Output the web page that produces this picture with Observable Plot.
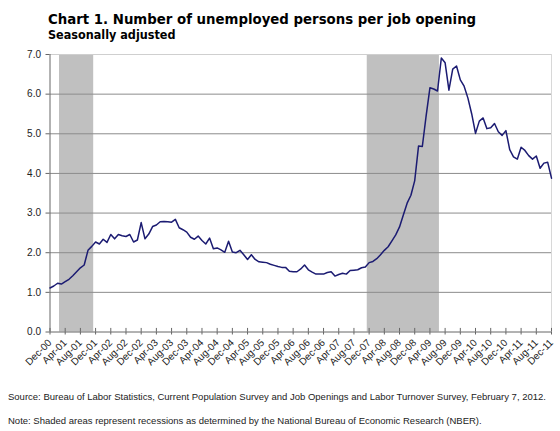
<!DOCTYPE html>
<html><head><meta charset="utf-8">
<script src="https://cdn.jsdelivr.net/npm/d3@7"></script>
<script src="https://cdn.jsdelivr.net/npm/@observablehq/plot@0.6"></script>
<style>
body{margin:0;background:#fff;}
#wrap{position:relative;width:560px;height:431px;overflow:hidden;background:#fff;}
.t{position:absolute;left:48px;font-family:"DejaVu Sans Condensed","DejaVu Sans",sans-serif;font-weight:bold;color:#000;white-space:nowrap;line-height:1;z-index:2;}
#title{top:11.5px;font-size:14.8px;}
#subtitle{top:28.5px;font-size:12.5px;}
#chart{position:absolute;left:0;top:40px;z-index:1;}
.c{position:absolute;left:8px;font-family:"Liberation Sans",Arial,sans-serif;font-size:9.5px;color:#222;white-space:nowrap;line-height:1;}
#source{top:391.5px;}
#note{top:416px;}
</style></head><body>
<div id="wrap">
<div id="title" class="t">Chart 1. Number of unemployed persons per job opening</div>
<div id="subtitle" class="t">Seasonally adjusted</div>
<div id="chart"></div>
<div id="source" class="c">Source: Bureau of Labor Statistics, Current Population Survey and Job Openings and Labor Turnover Survey, February 7, 2012.</div>
<div id="note" class="c">Note: Shaded areas represent recessions as determined by the National Bureau of Economic Research (NBER).</div>
</div>
<script>
// Unemployed persons per job opening, monthly Dec-00 .. Dec-11
const ratio = [
 1.11,1.16,1.23,1.21,1.27,1.33,1.42,1.52,1.62,1.69,2.06,2.16,
 2.27,2.22,2.34,2.26,2.46,2.35,2.46,2.43,2.41,2.46,2.27,2.32,
 2.76,2.35,2.47,2.66,2.70,2.78,2.79,2.78,2.77,2.84,2.63,2.58,
 2.52,2.39,2.34,2.42,2.31,2.22,2.37,2.10,2.12,2.07,2.01,2.29,
 2.02,2.00,2.06,1.95,1.83,1.95,1.83,1.77,1.76,1.75,1.71,1.68,
 1.65,1.63,1.63,1.53,1.52,1.52,1.59,1.69,1.57,1.51,1.46,1.46,
 1.46,1.50,1.52,1.41,1.45,1.48,1.46,1.55,1.56,1.57,1.62,1.64,
 1.75,1.78,1.85,1.95,2.06,2.15,2.30,2.45,2.65,2.95,3.25,3.45,
 3.82,4.69,4.68,5.45,6.16,6.13,6.08,6.91,6.79,6.10,6.63,6.71,
 6.36,6.20,5.90,5.50,5.01,5.32,5.40,5.13,5.15,5.26,5.05,4.96,
 5.08,4.60,4.42,4.36,4.66,4.58,4.45,4.36,4.44,4.13,4.26,4.28,
 3.88
];
const tickLabels = ["Dec-00","Apr-01","Aug-01","Dec-01","Apr-02","Aug-02","Dec-02","Apr-03","Aug-03","Dec-03",
 "Apr-04","Aug-04","Dec-04","Apr-05","Aug-05","Dec-05","Apr-06","Aug-06","Dec-06","Apr-07","Aug-07","Dec-07",
 "Apr-08","Aug-08","Dec-08","Apr-09","Aug-09","Dec-09","Apr-10","Aug-10","Dec-10","Apr-11","Aug-11","Dec-11"];
const yTicks = [0,1,2,3,4,5,6,7];
const recessions = [{start:"Mar-01", end:"Nov-01"},{start:"Dec-07", end:"Jun-09"}];

const fmt = d3.timeFormat("%b-%y");
const months = d3.timeMonth.range(new Date(2000,11,1), new Date(2012,0,1)).map(fmt);
const data = ratio.map((v,i)=>({i, month: months[i], v}));
const idx = m => months.indexOf(m);
const rec = recessions.map(r=>({x1: idx(r.start)-0.5, x2: idx(r.end)+0.5}));
const tickIdx = tickLabels.map(idx);

const chart = Plot.plot({
  width:560, height:340,
  marginLeft:49.5, marginRight:9, marginTop:14, marginBottom:48.5,
  x:{type:"linear", domain:[0, months.length-1]},
  y:{domain:[0,7]},
  style:{fontFamily:"'Liberation Sans', Arial, sans-serif", fontSize:"10px", color:"#222", background:"transparent", overflow:"visible"},
  marks:[
    Plot.rect(rec, {x1:"x1", x2:"x2", y1:0, y2:7, fill:"#c0c0c0"}),
    Plot.gridY(yTicks.filter(d=>d>0 && d<7), {stroke:"#8c8c8c", strokeOpacity:1, strokeWidth:1}),
    Plot.ruleY([7], {stroke:"#cfcfcf"}),
    Plot.ruleX([months.length-1], {stroke:"#d8d8d8"}),
    Plot.ruleX(tickIdx, {y1:0, y2:0.09, stroke:"#666"}),
    Plot.axisY(yTicks, {tickFormat: d=>d.toFixed(1), tickSize:4, tickPadding:5, stroke:"#666", label:null}),
    Plot.axisX(tickIdx, {tickFormat: i=>months[i], tickRotate:-45, tickSize:3, tickPadding:6, fontSize:10, stroke:"#666", label:null}),
    Plot.ruleX([0], {stroke:"#666"}),
    Plot.ruleY([0], {stroke:"#666"}),
    Plot.line(data, {x:"i", y:"v", stroke:"#1b1b72", strokeWidth:1.5})
  ]
});
document.getElementById("chart").appendChild(chart);
</script>
</body></html>
